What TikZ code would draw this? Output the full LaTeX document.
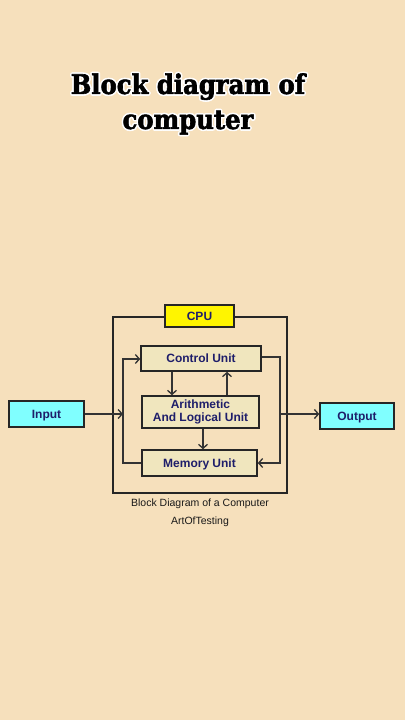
\documentclass[tikz,border=0pt]{standalone}
\usepackage{fontspec}
\setmainfont{Liberation Sans}
\newfontfamily\titlefont[FakeStretch=0.9,FakeBold=2.2]{DejaVu Serif}
\usetikzlibrary{arrows.meta,calc}
\definecolor{paper}{HTML}{F6E0BC}
\definecolor{unitfill}{HTML}{F0E6BE}
\definecolor{iofill}{HTML}{80FFFF}
\definecolor{cpufill}{HTML}{FFF500}
\definecolor{navy}{HTML}{1E1E6A}
\definecolor{wire}{HTML}{333333}

\tikzstyle{titletext} = [font=\titlefont\bfseries\fontsize{27}{35}\selectfont,align=center]
\tikzstyle{unit} = [draw=black!85,line width=1.6pt,fill=unitfill,text=navy,font=\bfseries\fontsize{12}{13.5}\selectfont,inner sep=0pt,align=center]
\tikzstyle{io} = [draw=black!85,line width=1.4pt,fill=iofill,text=navy,font=\bfseries\fontsize{12}{13.5}\selectfont,inner sep=0pt,text height=8.6pt,text depth=0pt]
\tikzstyle{line} = [draw=wire,->,line width=1.3pt]

\begin{document}
\begin{tikzpicture}[x=1pt,y=-1pt,>={Straight Barb[length=4pt,width=9pt]}]
\fill[paper] (0,0) rectangle (405,720);
\useasboundingbox (0,0) rectangle (405,720);
% white halo round the title
\foreach \a in {0,45,...,315}{
  \node[titletext,text=white] at ($(188,104)+(\a:1.6)$) {Block diagram of\\computer};
}
\node (title) [titletext] at (188,104) {Block diagram of\\computer};

\draw[black!85,line width=2pt] (113,317) rectangle (287,493);
\node (cpu) [io,fill=cpufill,line width=1.6pt,minimum width=69pt,minimum height=22pt] at (199.5,316) {CPU};

\node (cu) [unit,minimum width=120pt,minimum height=25pt,text height=8.6pt,text depth=0pt] at (201,358.5) {Control Unit};
\node (alu) [unit,minimum width=117pt,minimum height=32pt] at (200.5,412) {Arithmetic\\And Logical Unit};
\node (mem) [unit,minimum width=115pt,minimum height=26pt,text height=8.6pt,text depth=0pt] at (199.5,463) {Memory Unit};

\node (in) [io,minimum width=75pt,minimum height=26pt] at (46.5,414) {Input};
\node (out) [io,minimum width=74pt,minimum height=26pt] at (357,416) {Output};

\coordinate (lt) at (123,359);
\coordinate (lb) at (123,463);
\coordinate (lm) at (123,414);
\coordinate (rt) at (280,357);
\coordinate (rb) at (280,463);
\coordinate (rm) at (280,414);

\draw[line] ([xshift=-29pt]cu.south) -- ([xshift=-28.5pt]alu.north);
\draw[line] ([xshift=26.5pt]alu.north) -- ([xshift=26pt]cu.south);
\draw[line] ([xshift=2.5pt]alu.south) -- ([xshift=3.5pt]mem.north);

\draw[line] (mem.west |- lb) -- (lb) -- (lt) -- (cu.west |- lt);
\draw[line] (cu.east |- rt) -- (rt) -- (rb) -- (mem.east |- rb);
\draw[line] (in.east |- lm) -- (lm);
\draw[line] (rm) -- (out.west |- rm);

\node (cap) [text=black!90,font=\fontsize{10.5}{12}\selectfont] at (200,504) {Block Diagram of a Computer};
\node (src) [text=black!90,font=\fontsize{10.5}{12}\selectfont] at (200,522) {ArtOfTesting};
\end{tikzpicture}
\end{document}
